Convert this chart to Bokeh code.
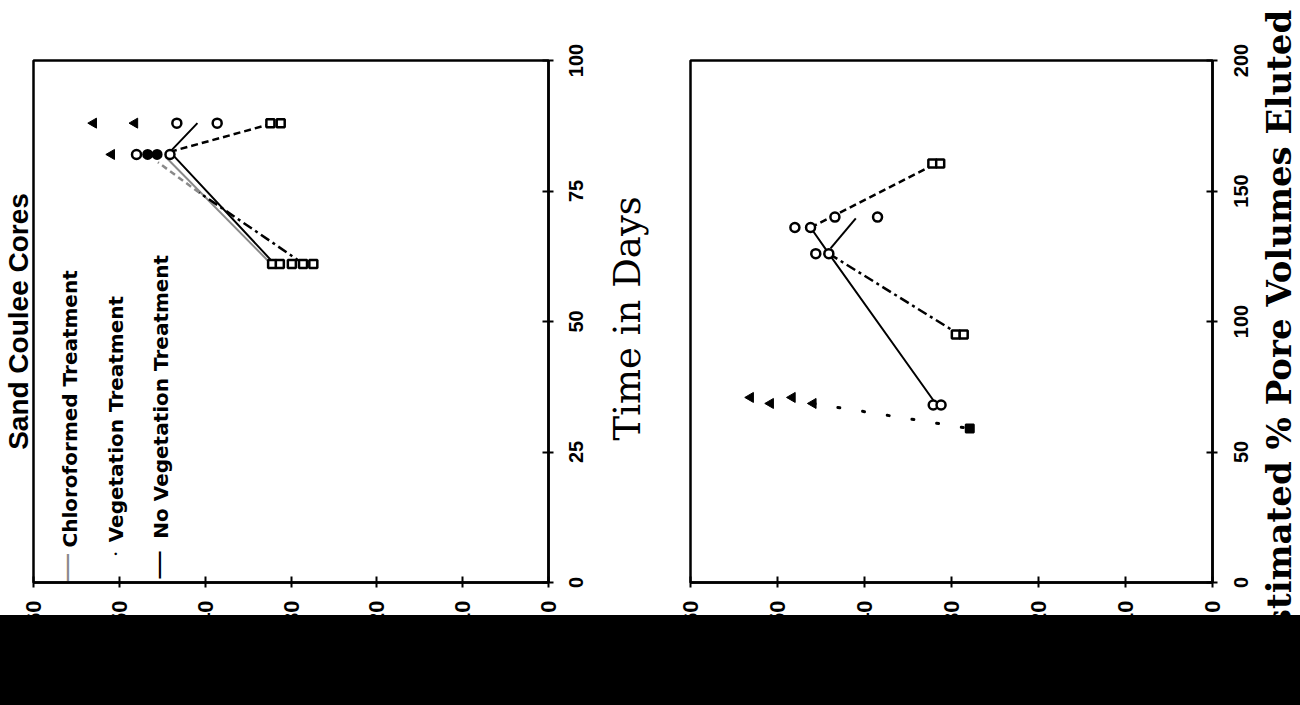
import math
from bokeh.plotting import figure
from bokeh.models import Range1d, FixedTicker, Label, Div, CustomJSTickFormatter
from bokeh.layouts import row, column
from bokeh.embed import file_html
from bokeh.resources import INLINE

# ---------------- data ----------------
value_ticks = [0, 10, 20, 30, 40, 50, 60]
days_ticks = [0, 25, 50, 75, 100]
pore_ticks = [0, 50, 100, 150, 200]

# Left panel: Sand Coulee Cores, vs Time in Days
sc_tri_days = [88, 88, 82]
sc_tri_val = [53.0, 48.2, 50.9]
sc_circ_days = [88, 88, 82, 82]
sc_circ_val = [43.3, 38.6, 48.0, 44.1]
sc_fill_days = [82, 82]
sc_fill_val = [46.7, 45.6]
sc_sq_days = [88, 88, 61, 61, 61, 61, 61]
sc_sq_val = [32.4, 31.2, 32.2, 31.3, 29.9, 28.6, 27.4]

sc_novg_days = [61, 82.5, 88]
sc_novg_val = [31.9, 44.1, 40.9]
sc_chl_days = [61.5, 81.5]
sc_chl_val = [32.6, 44.6]
sc_dash_days = [82.5, 88]
sc_dash_val = [44.1, 32.0]
sc_dd_days = [61, 74.7]
sc_dd_val = [28.5, 40.7]
sc_ddg_days = [74.7, 80.5]
sc_ddg_val = [40.7, 45.5]

# Right panel: vs Estimated % Pore Volumes Eluted
pv_tri_pore = [70.9, 68.6, 70.9, 68.6]
pv_tri_val = [53.1, 50.8, 48.3, 45.9]
pv_circ_pore = [136, 136, 140, 140, 126, 126, 68, 68]
pv_circ_val = [48.0, 46.2, 43.4, 38.5, 45.6, 44.1, 32.1, 31.2]
pv_sq_pore = [160.5, 160.5, 95, 95]
pv_sq_val = [32.2, 31.3, 29.5, 28.6]
pv_fsq_pore = [59]
pv_fsq_val = [27.9]
pv_solid_pore = [136, 126, 68]
pv_solid_val = [46.2, 44.1, 31.7]
pv_short_pore = [128, 139.5]
pv_short_val = [43.9, 41.0]
pv_dash_pore = [136, 160.5]
pv_dash_val = [46.2, 31.8]
pv_dd_pore = [126, 95]
pv_dd_val = [44.1, 29.1]
pv_dot_pore = [68.6, 59]
pv_dot_val = [45.9, 27.9]

legend_names = ["Chloroformed Treatment", "Vegetation Treatment", "No Vegetation Treatment"]

H = 640
FRAME_TOP, FRAME_BOTTOM = 60, 582
TICK_FONT = "Liberation Sans"
VERT = math.pi / 2


def make_fig(width, ymax, yticks, min_left):
    p = figure(width=width, height=H, output_backend="svg", toolbar_location=None,
               x_range=Range1d(60, 0), y_range=Range1d(0, ymax),
               x_axis_location="below", y_axis_location="right",
               min_border_left=min_left, min_border_top=FRAME_TOP,
               min_border_bottom=H - FRAME_BOTTOM, min_border_right=12)
    p.grid.visible = False
    p.outline_line_color = "black"
    p.outline_line_width = 2.5
    p.background_fill_color = "white"
    p.border_fill_color = "white"
    xa = p.xaxis[0]
    ya = p.yaxis[0]
    xa.ticker = FixedTicker(ticks=value_ticks)
    ya.ticker = FixedTicker(ticks=yticks)
    for ax in (xa, ya):
        ax.axis_line_width = 2.5
        ax.axis_line_color = "black"
        ax.major_tick_line_width = 2
        ax.major_tick_in = 6
        ax.major_tick_out = 5
        ax.minor_tick_line_color = None
    xa.major_label_text_font = TICK_FONT
    xa.major_label_text_font_style = "bold"
    xa.major_label_text_font_size = "22px"
    xa.major_label_text_color = "black"
    xa.major_label_orientation = VERT
    xa.major_label_standoff = 13
    # right axis: ticks here, its rotated labels are drawn in the side panel
    ya.formatter = CustomJSTickFormatter(code="return ''")
    ya.major_label_text_color = None
    ya.major_label_standoff = 0
    return p


def make_side(width, ymax, yticks, tick_x, label, label_x, label_y, label_size, label_bold):
    ppu = (FRAME_BOTTOM - FRAME_TOP) / ymax
    s = figure(width=width, height=H, output_backend="svg", toolbar_location=None,
               x_range=Range1d(0, width),
               y_range=Range1d(-(H - FRAME_BOTTOM) / ppu, ymax + FRAME_TOP / ppu),
               x_axis_location=None, y_axis_location=None,
               min_border_left=0, min_border_right=0, min_border_top=0, min_border_bottom=0)
    s.frame_align = False
    s.grid.visible = False
    s.outline_line_color = None
    s.background_fill_color = "white"
    s.border_fill_color = "white"
    for t in yticks:
        s.add_layout(Label(x=tick_x, y=t, text=str(t), angle=VERT,
                           text_align="center", text_baseline="middle",
                           text_font=TICK_FONT, text_font_style="bold",
                           text_font_size="20px", text_color="black"))
    s.add_layout(Label(x=label_x, y=label_y, text=label, angle=VERT,
                       text_align="center", text_baseline="middle",
                       text_font="DejaVu Serif",
                       text_font_style="bold" if label_bold else "normal",
                       text_font_size=label_size, text_color="black"))
    return s


# ---------------- left panel ----------------
p1 = make_fig(560, 100, days_ticks, 0)
p1.title.text = "Sand Coulee Cores"
p1.title_location = "left"
p1.title.align = "center"
p1.title.text_font = "Liberation Sans"
p1.title.text_font_style = "bold"
p1.title.text_font_size = "28px"
p1.title.text_color = "black"
p1.title.standoff = 0
s1 = make_side(90, 100, days_ticks, 15, "Time in Days", 67, 50.6, "37px", False)

p1.line(sc_chl_val, sc_chl_days, line_color="#8a8a8a", line_width=2)
p1.line(sc_novg_val, sc_novg_days, line_color="black", line_width=2)
p1.line(sc_dash_val, sc_dash_days, line_color="black", line_width=2.5, line_dash="7 4")
p1.line(sc_dd_val, sc_dd_days, line_color="black", line_width=2.5, line_dash="10 4 3 4")
p1.line(sc_ddg_val, sc_ddg_days, line_color="#8a8a8a", line_width=2.5, line_dash="6 4")
p1.scatter(sc_tri_val, sc_tri_days, marker="triangle", size=10, angle=VERT,
           fill_color="black", line_color="black")
p1.scatter(sc_circ_val, sc_circ_days, marker="circle", size=9,
           fill_color="white", line_color="black", line_width=2.5)
p1.scatter(sc_fill_val, sc_fill_days, marker="circle", size=9,
           fill_color="black", line_color="black", line_width=2)
p1.scatter(sc_sq_val, sc_sq_days, marker="square", size=8,
           fill_color="white", line_color="black", line_width=2.5)

LEG_FONT = "DejaVu Sans"
leg_x = [55.7, 50.4, 45.1]
leg_y = [6.7, 7.7, 8.4]
for name, lx, ly in zip(legend_names, leg_x, leg_y):
    p1.add_layout(Label(x=lx, y=ly, text=name, angle=VERT, text_align="left",
                        text_baseline="middle", text_font=LEG_FONT, text_font_style="bold",
                        text_font_size="20px", text_color="black"))
# legend line samples
p1.add_layout(Label(x=56.3, y=0.0, text="\u2014", angle=VERT, text_align="left",
                    text_baseline="middle", text_font=LEG_FONT, text_font_size="30px",
                    text_color="#8a8a8a"))
p1.add_layout(Label(x=50.4, y=5.5, text="\u2022", angle=VERT, text_align="center",
                    text_baseline="middle", text_font=LEG_FONT, text_font_size="9px",
                    text_color="black"))
p1.add_layout(Label(x=45.6, y=0.5, text="\u2014", angle=VERT, text_align="left",
                    text_baseline="middle", text_font=LEG_FONT, text_font_size="30px",
                    text_color="black"))

# ---------------- right panel ----------------
p2 = make_fig(574, 200, pore_ticks, 40)
s2 = make_side(76, 200, pore_ticks, 16, "Estimated % Pore Volumes Eluted", 54, 96,
               "34px", True)

p2.line(pv_solid_val, pv_solid_pore, line_color="black", line_width=2)
p2.line(pv_short_val, pv_short_pore, line_color="black", line_width=2)
p2.line(pv_dash_val, pv_dash_pore, line_color="black", line_width=2.5, line_dash="7 4")
p2.line(pv_dd_val, pv_dd_pore, line_color="black", line_width=2.5, line_dash="10 4 3 4")
p2.line(pv_dot_val, pv_dot_pore, line_color="black", line_width=3, line_dash="2 23",
        line_cap="round")
p2.scatter(pv_tri_val, pv_tri_pore, marker="triangle", size=10, angle=VERT,
           fill_color="black", line_color="black")
p2.scatter(pv_circ_val, pv_circ_pore, marker="circle", size=9,
           fill_color="white", line_color="black", line_width=2.5)
p2.scatter(pv_sq_val, pv_sq_pore, marker="square", size=8,
           fill_color="white", line_color="black", line_width=2.5)
p2.scatter(pv_fsq_val, pv_fsq_pore, marker="square", size=8,
           fill_color="black", line_color="black", line_width=2)

band = Div(text="", width=1300, height=90, margin=(0, 0, 0, 0),
           styles={"background-color": "black", "margin-top": "-25px",
                   "margin-left": "0px", "position": "relative", "z-index": "10"})

layout = column(row(p1, s1, p2, s2), band)
open("out.html", "w").write(file_html(layout, INLINE))
